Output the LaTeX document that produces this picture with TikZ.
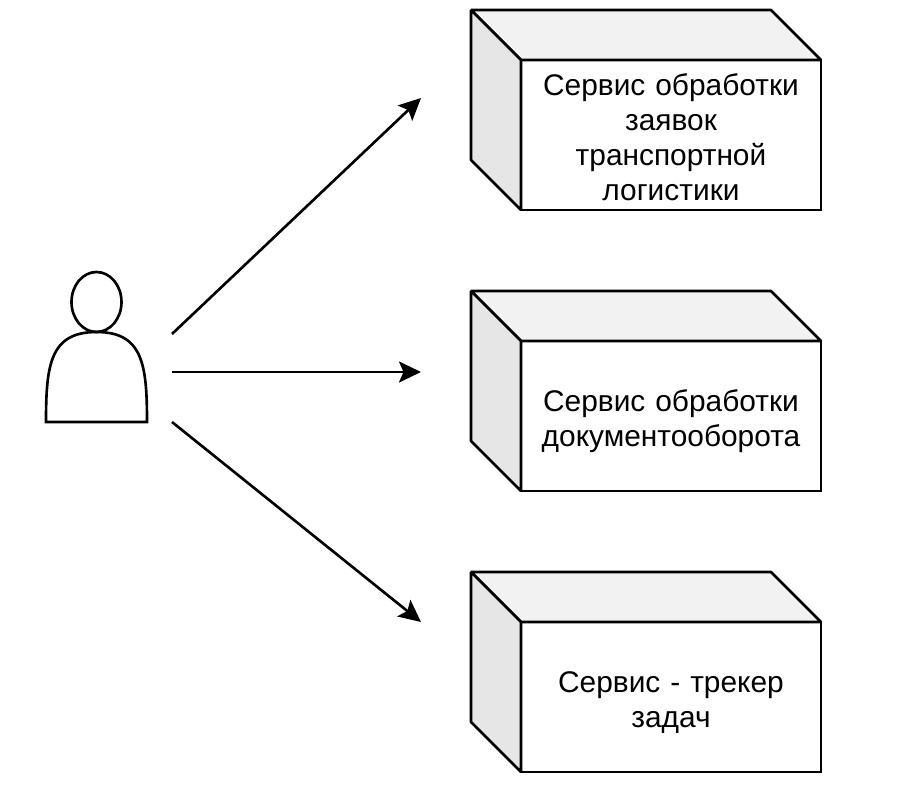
\documentclass[tikz,border=0pt]{standalone}
\usepackage{fontspec}
\setmainfont{Liberation Sans}
\usetikzlibrary{arrows.meta,shapes.geometric}
\definecolor{sidegray}{HTML}{E6E6E6}
\definecolor{topgray}{HTML}{F2F2F2}
\tikzset{
    service/.style={draw, line width=1.5pt, outer sep=0pt, fill=white, minimum width=6cm, minimum height=3cm, text width=5.6cm, align=center, font=\fontsize{17}{19.9}\selectfont},
    arrow/.style={-{Stealth[length=0.44cm,width=0.42cm,inset=0.09cm]}, line width=1.5pt},
}
\newcommand{\textlift}[1]{\rule{0pt}{#1}}
\newcommand{\cubeback}[1]{
    \draw[line width=1.5pt, line join=bevel, fill=topgray] (#1.north west) -- ++(-1,-1) -- ++(6,0) -- (#1.north east) -- cycle;
    \draw[line width=1.5pt, line join=bevel, fill=sidegray] (#1.north west) -- ++(-1,-1) -- ++(0,3) -- (#1.south west) -- cycle;
}
\begin{document}
\begin{tikzpicture}[x=1cm, y=-1cm, >=Stealth]
\useasboundingbox (0,0) rectangle (17.94,15.76);

\begin{scope}
    \node[service] (s1) at (13.42,2.7) {\textlift{0.54cm}Сервис обработки\\заявок\\транспортной\\логистики};
    \node[service] (s2) at (13.42,8.32) {\textlift{0.64cm}Сервис обработки\\документооборота};
    \node[service] (s3) at (13.42,13.94) {\textlift{0.64cm}Сервис - трекер\\задач};
    \cubeback{s1}
    \cubeback{s2}
    \cubeback{s3}
\end{scope}

\begin{scope}[line width=1.5pt]
    \node[draw, ellipse, minimum width=1cm, minimum height=1.2cm, inner sep=0pt] (head) at (1.93,6.04) {};
    \draw (0.92,8.44) -- (2.94,8.44)
        .. controls (2.94,7.3) and (2.86,6.64) .. (1.93,6.64)
        .. controls (1.0,6.64) and (0.92,7.3) .. (0.92,8.44) -- cycle;
\end{scope}

\begin{scope}
    \coordinate (u1) at (3.44,6.68);
    \coordinate (u2) at (3.44,7.44);
    \coordinate (u3) at (3.44,8.44);
    \coordinate (t1) at (8.42,1.96);
    \coordinate (t2) at (8.42,7.44);
    \coordinate (t3) at (8.42,12.44);
    \path [arrow] (u1) edge (t1);
    \path [arrow] (u2) edge (t2);
    \path [arrow] (u3) edge (t3);
\end{scope}
\end{tikzpicture}
\end{document}
